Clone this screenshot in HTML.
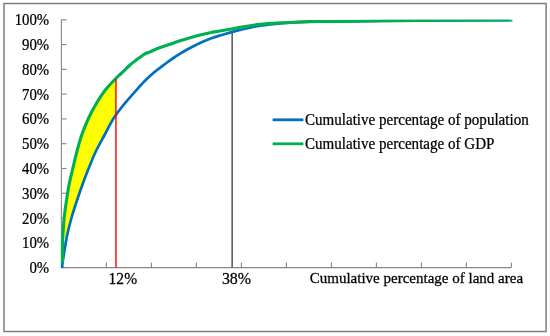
<!DOCTYPE html>
<html><head><meta charset="utf-8"><title>Cumulative percentage chart</title>
<style>
html,body{margin:0;padding:0;background:#fff;}
svg{display:block}
text{font-family:"Liberation Serif","Times New Roman",serif;font-size:16px;fill:#000;stroke:#000;stroke-width:0.25px}
</style></head><body>
<svg width="550" height="336" viewBox="0 0 550 336">
<defs><clipPath id="plot"><rect x="55" y="19.75" width="470" height="248.35"/></clipPath></defs>
<rect x="0" y="0" width="550" height="336" fill="#fff"/>
<rect x="4" y="3.5" width="542.1" height="328" fill="none" stroke="#7f7f7f" stroke-width="1.5"/>
<g stroke="#868686" stroke-width="1.1" fill="none">
<line x1="61.4" y1="19.3" x2="61.4" y2="268.1"/>
<line x1="61.4" y1="267.6" x2="511.4" y2="267.6"/>
<line x1="61.40" y1="19.80" x2="66.60" y2="19.80"/><line x1="61.40" y1="44.58" x2="66.60" y2="44.58"/><line x1="61.40" y1="69.36" x2="66.60" y2="69.36"/><line x1="61.40" y1="94.14" x2="66.60" y2="94.14"/><line x1="61.40" y1="118.92" x2="66.60" y2="118.92"/><line x1="61.40" y1="143.70" x2="66.60" y2="143.70"/><line x1="61.40" y1="168.48" x2="66.60" y2="168.48"/><line x1="61.40" y1="193.26" x2="66.60" y2="193.26"/><line x1="61.40" y1="218.04" x2="66.60" y2="218.04"/><line x1="61.40" y1="242.82" x2="66.60" y2="242.82"/><line x1="61.40" y1="267.60" x2="66.60" y2="267.60"/><line x1="106.40" y1="267.60" x2="106.40" y2="262.40"/><line x1="151.40" y1="267.60" x2="151.40" y2="262.40"/><line x1="196.40" y1="267.60" x2="196.40" y2="262.40"/><line x1="241.40" y1="267.60" x2="241.40" y2="262.40"/><line x1="286.40" y1="267.60" x2="286.40" y2="262.40"/><line x1="331.40" y1="267.60" x2="331.40" y2="262.40"/><line x1="376.40" y1="267.60" x2="376.40" y2="262.40"/><line x1="421.40" y1="267.60" x2="421.40" y2="262.40"/><line x1="466.40" y1="267.60" x2="466.40" y2="262.40"/><line x1="511.40" y1="267.60" x2="511.40" y2="262.40"/>
</g>
<g clip-path="url(#plot)">
<path d="M62.79 237.41 L62.82 236.84 L62.86 236.14 L62.92 235.23 L63.00 234.00 L63.10 232.44 L63.21 230.61 L63.34 228.58 L63.48 226.41 L63.64 224.15 L63.81 221.87 L64.00 219.63 L64.20 217.50 L64.42 215.44 L64.67 213.38 L64.93 211.31 L65.21 209.25 L65.49 207.19 L65.79 205.12 L66.09 203.06 L66.40 201.00 L66.71 198.94 L67.01 196.88 L67.33 194.81 L67.65 192.75 L67.98 190.69 L68.34 188.62 L68.71 186.56 L69.10 184.50 L69.52 182.44 L69.97 180.38 L70.44 178.31 L70.92 176.25 L71.41 174.19 L71.91 172.12 L72.41 170.06 L72.90 168.00 L73.38 165.94 L73.87 163.88 L74.35 161.81 L74.84 159.75 L75.33 157.69 L75.84 155.62 L76.36 153.56 L76.90 151.50 L77.45 149.44 L78.00 147.38 L78.56 145.31 L79.13 143.25 L79.73 141.19 L80.35 139.12 L81.00 137.06 L81.70 135.00 L82.43 132.94 L83.19 130.88 L83.98 128.81 L84.80 126.75 L85.65 124.69 L86.53 122.62 L87.45 120.56 L88.40 118.50 L89.40 116.41 L90.46 114.27 L91.57 112.12 L92.70 109.98 L93.84 107.87 L94.99 105.82 L96.11 103.86 L97.20 102.00 L98.25 100.26 L99.26 98.63 L100.26 97.07 L101.26 95.57 L102.26 94.12 L103.30 92.69 L104.37 91.25 L105.50 89.80 L106.73 88.29 L108.08 86.74 L109.48 85.18 L110.91 83.64 L112.30 82.16 L113.61 80.79 L114.79 79.56 L115.80 78.50 L115.90 78.40 L115.90 116.54 L114.79 116.54 L113.50 118.50 L112.26 120.51 L111.09 122.54 L109.97 124.60 L108.88 126.67 L107.82 128.76 L106.76 130.85 L105.69 132.93 L104.60 135.00 L103.48 137.06 L102.35 139.12 L101.21 141.19 L100.08 143.25 L98.96 145.31 L97.87 147.38 L96.81 149.44 L95.80 151.50 L94.83 153.56 L93.91 155.62 L93.01 157.69 L92.14 159.75 L91.29 161.81 L90.46 163.88 L89.63 165.94 L88.80 168.00 L87.97 170.06 L87.16 172.12 L86.36 174.19 L85.57 176.25 L84.79 178.31 L84.02 180.38 L83.25 182.44 L82.50 184.50 L81.76 186.56 L81.02 188.62 L80.30 190.69 L79.58 192.75 L78.87 194.81 L78.18 196.88 L77.48 198.94 L76.80 201.00 L76.12 203.06 L75.44 205.12 L74.77 207.19 L74.11 209.25 L73.45 211.31 L72.82 213.38 L72.20 215.44 L71.60 217.50 L71.01 219.61 L70.42 221.78 L69.85 223.97 L69.29 226.16 L68.76 228.29 L68.26 230.33 L67.80 232.25 L67.40 234.00 L67.06 235.56 L66.78 236.96 Z" fill="#ffff00" stroke="none"/>
<path d="M62.30 268.50 C62.32 267.75 62.13 266.42 62.40 264.00 C62.67 261.58 63.37 257.33 63.90 254.00 C64.43 250.67 65.02 247.33 65.60 244.00 C66.18 240.67 66.40 238.42 67.40 234.00 C68.40 229.58 70.03 223.00 71.60 217.50 C73.17 212.00 74.98 206.50 76.80 201.00 C78.62 195.50 80.50 190.00 82.50 184.50 C84.50 179.00 86.58 173.50 88.80 168.00 C91.02 162.50 93.17 157.00 95.80 151.50 C98.43 146.00 101.65 140.50 104.60 135.00 C107.55 129.50 110.10 123.80 113.50 118.50 C116.90 113.20 120.58 108.62 125.00 103.20 C129.42 97.78 136.67 89.73 140.00 86.00 C143.33 82.27 143.33 82.47 145.00 80.80 C146.67 79.13 148.33 77.53 150.00 76.00 C151.67 74.47 153.33 72.97 155.00 71.60 C156.67 70.23 157.50 69.67 160.00 67.80 C162.50 65.93 167.50 62.20 170.00 60.40 C172.50 58.60 173.00 58.32 175.00 57.00 C177.00 55.68 179.50 54.00 182.00 52.50 C184.50 51.00 187.00 49.58 190.00 48.00 C193.00 46.42 196.67 44.53 200.00 43.00 C203.33 41.47 206.67 40.05 210.00 38.80 C213.33 37.55 216.67 36.53 220.00 35.50 C223.33 34.47 226.67 33.53 230.00 32.60 C233.33 31.67 236.67 30.73 240.00 29.90 C243.33 29.07 246.67 28.30 250.00 27.60 C253.33 26.90 256.67 26.25 260.00 25.70 C263.33 25.15 266.67 24.68 270.00 24.30 C273.33 23.92 276.67 23.68 280.00 23.40 C283.33 23.12 286.67 22.82 290.00 22.60 C293.33 22.38 296.67 22.25 300.00 22.10 C303.33 21.95 305.83 21.77 310.00 21.70 C314.17 21.63 318.33 21.77 325.00 21.70 C331.67 21.63 337.50 21.47 350.00 21.30 C362.50 21.13 383.33 20.87 400.00 20.70 C416.67 20.53 431.83 20.40 450.00 20.30 C468.17 20.20 499.17 20.13 509.00 20.10" fill="none" stroke="#0070c0" stroke-width="2.7" stroke-linejoin="round" stroke-linecap="round"/>
<path d="M62.50 262.80 C62.50 260.67 62.47 253.80 62.50 250.00 C62.53 246.20 62.62 242.67 62.70 240.00 C62.78 237.33 62.75 237.75 63.00 234.00 C63.25 230.25 63.63 223.00 64.20 217.50 C64.77 212.00 65.58 206.50 66.40 201.00 C67.22 195.50 68.02 190.00 69.10 184.50 C70.18 179.00 71.60 173.50 72.90 168.00 C74.20 162.50 75.43 157.00 76.90 151.50 C78.37 146.00 79.78 140.50 81.70 135.00 C83.62 129.50 85.82 124.00 88.40 118.50 C90.98 113.00 94.35 106.78 97.20 102.00 C100.05 97.22 102.40 93.72 105.50 89.80 C108.60 85.88 113.38 81.05 115.80 78.50 C118.22 75.95 118.47 75.95 120.00 74.50 C121.53 73.05 123.33 71.38 125.00 69.80 C126.67 68.22 128.33 66.47 130.00 65.00 C131.67 63.53 133.33 62.28 135.00 61.00 C136.67 59.72 138.42 58.43 140.00 57.30 C141.58 56.17 142.83 55.12 144.50 54.20 C146.17 53.28 147.42 52.92 150.00 51.80 C152.58 50.68 156.67 48.77 160.00 47.50 C163.33 46.23 166.67 45.33 170.00 44.20 C173.33 43.07 176.67 41.78 180.00 40.70 C183.33 39.62 186.67 38.65 190.00 37.70 C193.33 36.75 196.67 35.83 200.00 35.00 C203.33 34.17 206.67 33.37 210.00 32.70 C213.33 32.03 216.67 31.58 220.00 31.00 C223.33 30.42 226.67 29.82 230.00 29.20 C233.33 28.58 236.67 27.88 240.00 27.30 C243.33 26.72 246.67 26.18 250.00 25.70 C253.33 25.22 256.67 24.78 260.00 24.40 C263.33 24.02 266.67 23.65 270.00 23.40 C273.33 23.15 276.67 23.05 280.00 22.90 C283.33 22.75 286.67 22.65 290.00 22.50 C293.33 22.35 296.67 22.15 300.00 22.00 C303.33 21.85 305.83 21.68 310.00 21.60 C314.17 21.52 318.33 21.57 325.00 21.50 C331.67 21.43 337.50 21.35 350.00 21.20 C362.50 21.05 383.33 20.77 400.00 20.60 C416.67 20.43 431.27 20.30 450.00 20.20 C468.73 20.10 502.00 20.03 512.40 20.00" fill="none" stroke="#00b050" stroke-width="3.1" stroke-linejoin="round" stroke-linecap="butt"/>
</g>
<line x1="115.95" y1="79" x2="115.95" y2="267.6" stroke="#ff0000" stroke-width="1.4"/>
<line x1="232.15" y1="32" x2="232.15" y2="267.6" stroke="#555555" stroke-width="1.5"/>
<line x1="272.6" y1="119.8" x2="303.4" y2="119.8" stroke="#0070c0" stroke-width="2.8"/>
<line x1="272.6" y1="143.8" x2="303.4" y2="143.8" stroke="#00b050" stroke-width="2.8"/>
<text transform="translate(305.00 125.20) scale(0.9417 1)" text-anchor="start">Cumulative percentage of population</text>
<text transform="translate(305.00 149.20) scale(0.9417 1)" text-anchor="start">Cumulative percentage of GDP</text>
<text transform="translate(49.20 25.30) scale(0.9250 1)" text-anchor="end">100%</text><text transform="translate(49.20 50.08) scale(0.9250 1)" text-anchor="end">90%</text><text transform="translate(49.20 74.86) scale(0.9250 1)" text-anchor="end">80%</text><text transform="translate(49.20 99.64) scale(0.9250 1)" text-anchor="end">70%</text><text transform="translate(49.20 124.42) scale(0.9250 1)" text-anchor="end">60%</text><text transform="translate(49.20 149.20) scale(0.9250 1)" text-anchor="end">50%</text><text transform="translate(49.20 173.98) scale(0.9250 1)" text-anchor="end">40%</text><text transform="translate(49.20 198.76) scale(0.9250 1)" text-anchor="end">30%</text><text transform="translate(49.20 223.54) scale(0.9250 1)" text-anchor="end">20%</text><text transform="translate(49.20 248.32) scale(0.9250 1)" text-anchor="end">10%</text><text transform="translate(49.20 273.10) scale(0.9250 1)" text-anchor="end">0%</text>
<text transform="translate(108.60 283.60) scale(0.9730 1)" text-anchor="start">12%</text>
<text transform="translate(221.90 283.60) scale(0.9950 1)" text-anchor="start">38%</text>
<text transform="translate(309.70 283.40) scale(0.9690 1)" text-anchor="start" style="font-size:15.5px">Cumulative percentage of land area</text>
</svg>
</body></html>
